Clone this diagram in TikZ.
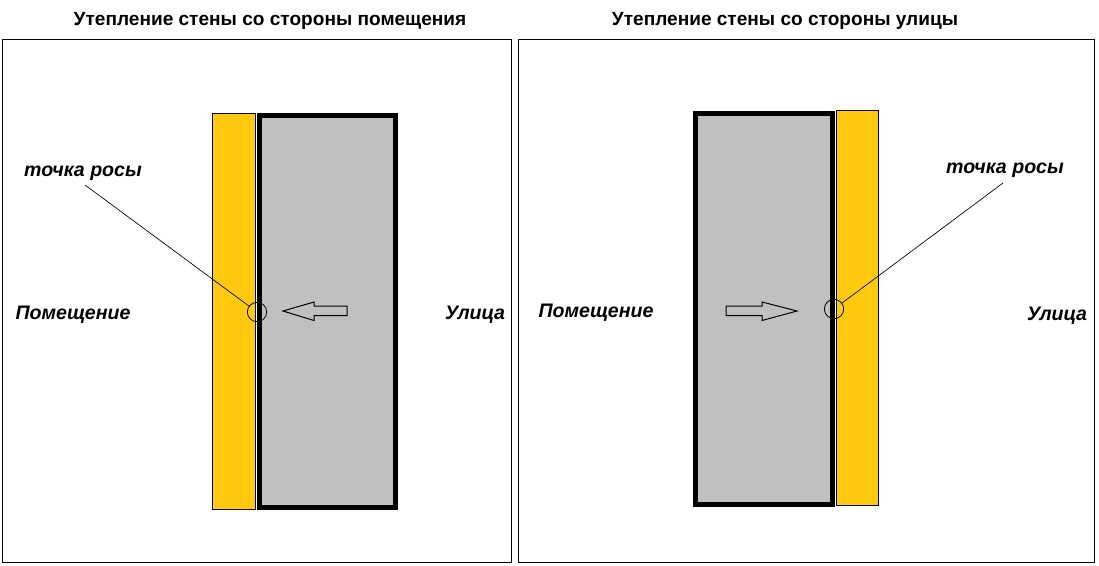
\documentclass[tikz,border=0pt]{standalone}
\usepackage{fontspec}
\setmainfont{Liberation Sans}
\usepackage{tikz}

\definecolor{insul}{HTML}{FFC90E}
\definecolor{wallgray}{HTML}{C0C0C0}

\tikzset{
	title/.style={font=\fontsize{14.3}{16}\selectfont\bfseries},
	side/.style={font=\fontsize{14.7}{16}\selectfont\bfseries\itshape},
	frame/.style={draw, line width=.75pt},
	wall/.style={draw, line width=3.75pt, fill=wallgray, line join=miter},
	insulation/.style={draw, line width=.75pt, fill=insul},
	dew/.style={draw, circle, line width=.6pt, minimum size=14.5pt, inner sep=0pt},
	leader/.style={line width=.5pt},
	flow/.style={draw, line width=.75pt, line join=miter}
}

\begin{document}
\begin{tikzpicture}[x=.75pt,y=-.75pt]
		\useasboundingbox[fill=white] (0,0) rectangle (1099,565);
		
		\node[title] (t1) at (270,20.5) {Утепление стены со стороны помещения};
		\node[title] (t2) at (785,20.5) {Утепление стены со стороны улицы};
		
		\draw[frame] (2,39) rectangle (511,562);
		\draw[frame] (518,39) rectangle (1094,562);
		
		\draw[insulation] (212,113) rectangle (255,509);
		\draw[wall] (259,115.5) rectangle (395.5,507);
		
		\draw[wall] (695.5,113) rectangle (832.5,504);
		\draw[insulation] (836,110) rectangle (878.5,505);
		
		\node[dew] (c1) at (257,312) {};
		\node[dew] (c2) at (834,309) {};
		
		\node[side] (r1) at (83,173) {точка росы};
		\node[side] (r2) at (1005,170) {точка росы};
		
		\coordinate (s1) at (85,185);
		\coordinate (s2) at (1003,183);
		\draw[leader] (s1) -- (c1);
		\draw[leader] (s2) -- (c2);
		
		\node[side] (in1) at (73,314.5) {Помещение};
		\node[side] (out1) at (475,314.5) {Улица};
		\node[side] (in2) at (596,312.5) {Помещение};
		\node[side] (out2) at (1057,315.5) {Улица};
		
		\draw[flow] (283,311) -- (314,302) -- (314,306) -- (347,306) -- (347,315.5) -- (314,315.5) -- (314,320.5) -- cycle;
		\draw[flow] (797,311) -- (762,302) -- (762,306) -- (726,306) -- (726,315.5) -- (762,315.5) -- (762,320.5) -- cycle;
		
	\end{tikzpicture}
\end{document}
